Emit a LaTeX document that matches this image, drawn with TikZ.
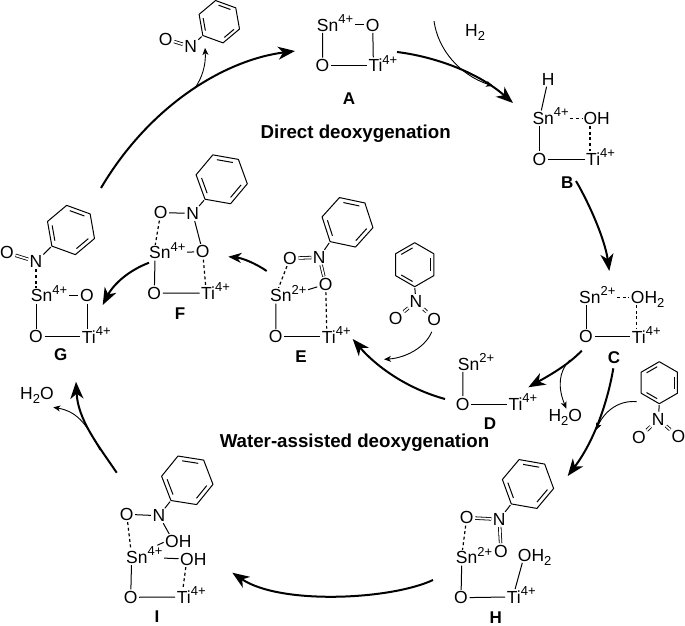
\documentclass[tikz,border=0pt]{standalone}
\usepackage{fontspec}
\setmainfont{Liberation Sans}
\usetikzlibrary{calc,arrows.meta}

\newcommand{\chg}[1]{\smash{\raisebox{0.42em}{\fontsize{13}{13}\selectfont #1}}}
\newcommand{\subn}[1]{\smash{\raisebox{-0.25em}{\fontsize{13}{13}\selectfont #1}}}

% name, centre, radius, angle of the vertex that carries N
\newcommand{\phring}[4]{%
  \coordinate (#1-c) at (#2);
  \foreach \k in {0,...,5}{\coordinate (#1-\k) at ($(#2)+(#4-60*\k:#3pt)$);}
  \draw[ringline] (#1-0) -- (#1-1) -- (#1-2) -- (#1-3) -- (#1-4) -- (#1-5) -- cycle;
  \foreach \a/\b in {0/1,2/3,4/5}{
    \draw[ringline,shorten >=2.5pt,shorten <=2.5pt] ($(#1-c)!0.82!(#1-\a)$) -- ($(#1-c)!0.82!(#1-\b)$);}%
}

\tikzset{
  atom/.style={inner sep=0pt,font=\fontsize{17.5}{20}\selectfont},
  atomw/.style={atom,anchor=west},
  tag/.style={inner sep=0pt,font=\fontsize{17}{20}\selectfont\bfseries},
  head/.style={inner sep=0pt,font=\fontsize{18.7}{20}\selectfont\bfseries},
  ringline/.style={line width=1pt,line join=round},
  bond/.style={line width=1pt,shorten >=1.5pt,shorten <=1.5pt},
  dbond/.style={bond,double,double distance=1.8pt,line width=0.8pt},
  dbondn/.style={bond,dash pattern=on 3pt off 2.6pt,line width=1.2pt},
  bigarrow/.style={line width=2pt,-{Stealth[length=17pt,width=13pt,inset=5pt]}},
  midarrow/.style={line width=2pt,-{Stealth[length=13pt,width=10pt,inset=4pt]}},
  thinarrow/.style={line width=0.9pt,-{Stealth[length=7pt,width=6pt,inset=2pt]}},
}

\begin{document}
\begin{tikzpicture}[x=1pt,y=-1pt]
\useasboundingbox (0,0) rectangle (685,626);

% titles
\node[head] (tdirect) at (355.7,134) {Direct deoxygenation};
\node[head] (twater) at (354.5,443) {Water-assisted deoxygenation};

% A
\node[atomw] (Asn) at (316.7,25) {Sn\chg{4+}};
\node[atom] (Ao) at (372.7,25) {O};
\node[atom] (Al) at (322.5,65.5) {O};
\node[atomw] (Ati) at (368.3,65.5) {Ti\chg{4+}};
\node[tag] (Atag) at (349,99) {A};
\draw[bond] (Asn) -- (Ao);
\draw[bond] ([xshift=6pt]Asn.south west) -- (Al);
\draw[bond] (Al) -- (Ati.west);
\draw[bond] (Ao) -- ([xshift=5pt]Ati.north west);

% B
\node[atom] (Bh) at (548.3,79) {H};
\node[atomw] (Bsn) at (532.3,118.3) {Sn\chg{4+}};
\node[atomw] (Boh) at (583.3,118.3) {OH};
\node[atom] (Bl) at (539.3,159) {O};
\node[atomw] (Bti) at (586,159) {Ti\chg{4+}};
\node[tag] (Btag) at (567.3,182.3) {B};
\draw[bond] (Bh) -- ([xshift=8.7pt]Bsn.north west);
\draw[dbondn] (Bsn) -- (Boh);
\draw[bond] ([xshift=7pt]Bsn.south west) -- (Bl);
\draw[bond] (Bl) -- (Bti.west);
\draw[dbondn] ([xshift=6.7pt]Boh.south west) -- ([xshift=4pt]Bti.north west);

% C
\node[atomw] (Csn) at (579,297.3) {Sn\chg{2+}};
\node[atomw] (Coh) at (630.7,297.3) {OH\subn{2}};
\node[atom] (Cl) at (586,336.7) {O};
\node[atomw] (Cti) at (631.7,336.7) {Ti\chg{4+}};
\node[tag] (Ctag) at (614,358) {C};
\draw[dbondn] (Csn) -- (Coh);
\draw[bond] ([xshift=7pt]Csn.south west) -- (Cl);
\draw[bond] (Cl) -- (Cti.west);
\draw[dbondn] ([xshift=6pt]Coh.south west) -- ([xshift=5pt]Cti.north west);

% D
\node[atomw] (Dsn) at (457.7,364) {Sn\chg{2+}};
\node[atom] (Dl) at (462.7,404) {O};
\node[atomw] (Dti) at (508.3,404) {Ti\chg{4+}};
\node[tag] (Dtag) at (490,424) {D};
\node[atomw] (Dwater) at (548.3,415) {H\subn{2}O};
\draw[bond] ([xshift=5.3pt]Dsn.south west) -- (Dl);
\draw[bond] (Dl) -- (Dti.west);

% E
\phring{Er}{347.5,222.3}{26}{228}
\node[atom] (Eo) at (290,258.3) {O};
\node[atom] (En) at (319.3,257.3) {N};
\node[atom] (Eb) at (325.7,284.3) {O};
\node[atomw] (Esn) at (270,295.7) {Sn\chg{2+}};
\node[atom] (El) at (275.7,336.7) {O};
\node[atomw] (Eti) at (321.7,336.7) {Ti\chg{4+}};
\node[tag] (Etag) at (301,357) {E};
\draw[bond] (En) -- (Er-0);
\draw[dbond] (Eo) -- (En);
\draw[dbond] (En) -- (Eb);
\draw[bond] (Esn) -- (Eb);
\draw[dbondn] (Eo) -- ([xshift=8pt]Esn.north west);
\draw[dbondn] (Eb) -- ([xshift=5pt]Eti.north west);
\draw[bond] ([xshift=6pt]Esn.south west) -- (El);
\draw[bond] (El) -- (Eti.west);

% F
\phring{Fr}{221.7,179.3}{26}{230}
\node[atom] (Fo) at (160.7,212.7) {O};
\node[atom] (Fn) at (192.7,213.3) {N};
\node[atomw] (Fsn) at (149,252.7) {Sn\chg{4+}};
\node[atom] (Fb) at (202.7,251.7) {O};
\node[atom] (Fl) at (154.3,293.3) {O};
\node[atomw] (Fti) at (201,293) {Ti\chg{4+}};
\node[tag] (Ftag) at (180,314) {F};
\draw[bond] (Fn) -- (Fr-0);
\draw[bond] (Fo) -- (Fn);
\draw[bond] (Fn) -- (Fb);
\draw[bond] (Fsn) -- (Fb);
\draw[dbondn] (Fo) -- ([xshift=6pt]Fsn.north west);
\draw[dbondn] (Fb) -- ([xshift=4.7pt]Fti.north west);
\draw[bond] ([xshift=6pt]Fsn.south west) -- (Fl);
\draw[bond] (Fl) -- (Fti.west);

% G
\phring{Gr}{71,230}{25}{220}
\node[atom] (Go) at (7,252.7) {O};
\node[atom] (Gn) at (36,261.7) {N};
\node[atomw] (Gsn) at (30.7,295.7) {Sn\chg{4+}};
\node[atom] (Gb) at (87,295.7) {O};
\node[atom] (Gl) at (36,336.7) {O};
\node[atomw] (Gti) at (81.7,336.7) {Ti\chg{4+}};
\node[tag] (Gtag) at (60.7,355) {G};
\draw[bond] (Gn) -- (Gr-0);
\draw[dbond] (Go) -- (Gn);
\draw[dbondn] (Gn) -- ([xshift=5.3pt]Gsn.north west);
\draw[bond] (Gsn) -- (Gb);
\draw[bond] ([xshift=5.3pt]Gsn.south west) -- (Gl);
\draw[bond] (Gl) -- (Gti.west);
\draw[bond] (Gb) -- ([xshift=5.3pt]Gti.north west);

% H
\phring{Hr}{528,484}{26}{230}
\node[atom] (Ho) at (466.7,517.7) {O};
\node[atom] (Hn) at (499.3,519.3) {N};
\node[atom] (Hb) at (501,551) {O};
\node[atomw] (Hsn) at (455.7,557.7) {Sn\chg{2+}};
\node[atomw] (Hoh) at (517.7,555) {OH\subn{2}};
\node[atom] (Hl) at (461,597.7) {O};
\node[atomw] (Hti) at (506.7,597) {Ti\chg{4+}};
\node[tag] (Htag) at (495.7,617.5) {H};
\draw[bond] (Hn) -- (Hr-0);
\draw[dbond] (Ho) -- (Hn);
\draw[dbond] (Hn) -- (Hb);
\draw[dbondn] (Ho) -- ([xshift=6.6pt]Hsn.north west);
\draw[bond] ([xshift=6pt]Hsn.south west) -- (Hl);
\draw[bond] (Hl) -- (Hti.west);
\draw[bond] ([xshift=5pt]Hoh.south west) -- ([xshift=8pt]Hti.north west);

% I
\phring{Ir}{187.3,480.3}{26}{231}
\node[atom] (Io) at (126.7,514.3) {O};
\node[atom] (In) at (159,515.7) {N};
\node[atomw] (Ioa) at (165,541.7) {OH};
\node[atomw] (Isn) at (126,557.3) {Sn\chg{4+}};
\node[atomw] (Iob) at (180,559.3) {OH};
\node[atom] (Il) at (130.7,597.3) {O};
\node[atomw] (Iti) at (176.7,597) {Ti\chg{4+}};
\node[tag] (Itag) at (157,617) {I};
\draw[bond] (In) -- (Ir-0);
\draw[bond] (Io) -- (In);
\draw[bond] (In) -- ([xshift=5pt]Ioa.north west);
\draw[bond] (Ioa.west) -- ([xshift=30pt,yshift=5pt]Isn.north west);
\draw[bond] (Isn) -- (Iob);
\draw[dbondn] (Io) -- ([xshift=5pt]Isn.north west);
\draw[dbondn] ([xshift=6pt]Iob.south west) -- ([xshift=6pt]Iti.north west);
\draw[bond] ([xshift=5.5pt]Isn.south west) -- (Il);
\draw[bond] (Il) -- (Iti.west);

% products and reagents
\phring{Tr}{219.3,21.7}{21.5}{220}
\node[atom] (Tn) at (190.7,46.7) {N};
\node[atom] (To) at (165.7,39) {O};
\draw[bond] (Tn) -- (Tr-0);
\draw[dbond] (To) -- (Tn);
\node[atomw] (Hgas) at (465,30) {H\subn{2}};
\node[atomw] (Lwater) at (20,393.3) {H\subn{2}O};

\phring{Pr}{414.7,264.7}{22}{270}
\node[atom] (Pn) at (416,301.7) {N};
\node[atom] (Pa) at (395.7,318.3) {O};
\node[atom] (Pb) at (434.3,319.3) {O};
\draw[bond] (Pn) -- (Pr-0);
\draw[dbond] (Pn) -- (Pa);
\draw[dbond] (Pn) -- (Pb);

\phring{Qr}{659.3,382.7}{21}{270}
\node[atom] (Qn) at (658.3,419.3) {N};
\node[atom] (Qa) at (639,437.7) {O};
\node[atom] (Qb) at (678.3,436.7) {O};
\draw[bond] (Qn) -- (Qr-0);
\draw[dbond] (Qn) -- (Qa);
\draw[dbond] (Qn) -- (Qb);

% free ends of the arrows
\coordinate (ga) at (101,188);
\coordinate (ag) at (295,51);
\coordinate (ab) at (397,52);
\coordinate (ba) at (513,103);
\coordinate (bc) at (576,181);
\coordinate (cb) at (609.3,271);
\coordinate (cd) at (581.7,350.7);
\coordinate (dc) at (528.3,387.3);
\coordinate (de) at (445,399);
\coordinate (ed) at (352.7,339);
\coordinate (ef) at (266.7,271);
\coordinate (fe) at (228.3,256.7);
\coordinate (fg) at (149,262.7);
\coordinate (gf) at (102.7,305);
\coordinate (ch) at (613.3,368.3);
\coordinate (hc) at (567.7,476);
\coordinate (hi) at (433,580);
\coordinate (ih) at (232.3,572.7);
\coordinate (ig) at (116.7,472.7);
\coordinate (gi) at (76,381.7);

% main cycle
\draw[bigarrow] (ga) .. controls (150,105) and (225,60) .. (ag);
\draw[bigarrow] (ab) .. controls (430,56) and (475,70) .. (ba);
\draw[bigarrow] (bc) .. controls (590,205) and (605,240) .. (cb);
\draw[bigarrow] (cd) .. controls (568,365) and (550,375) .. (dc);
\draw[bigarrow] (de) .. controls (405,388) and (375,365) .. (ed);
\draw[midarrow] (ef) .. controls (255,263) and (242,258) .. (fe);
\draw[bigarrow] (fg) .. controls (125,272) and (112,287) .. (gf);
\draw[bigarrow] (ch) .. controls (608,400) and (595,440) .. (hc);
\draw[bigarrow] (hi) .. controls (390,600) and (280,605) .. (ih);
\draw[bigarrow] (ig) .. controls (98,445) and (78,420) .. (gi);

% thin side arrows
\coordinate (sa) at (195,88);
\draw[thinarrow] (sa) .. controls (202,78) and (206,65) .. (205,48);
\coordinate (sh) at (434,21);
\draw[thinarrow] (sh) .. controls (438,50) and (460,75) .. (493,86);
\coordinate (sc) at (570,360);
\draw[thinarrow] (sc) .. controls (558,372) and (558,388) .. ([xshift=18pt]Dwater.north west);
\draw[thinarrow] ($(Pb.south)+(-2.5,6)$) .. controls (425,348) and (405,358) .. (384,359.3);
\coordinate (sq) at (636.7,401.7);
\draw[thinarrow] (sq) .. controls (620,400) and (605,410) .. (596,430);
\coordinate (si) at (100,450);
\draw[thinarrow] (si) .. controls (88,428) and (80,412) .. (53.3,407.3);

\end{tikzpicture}
\end{document}
